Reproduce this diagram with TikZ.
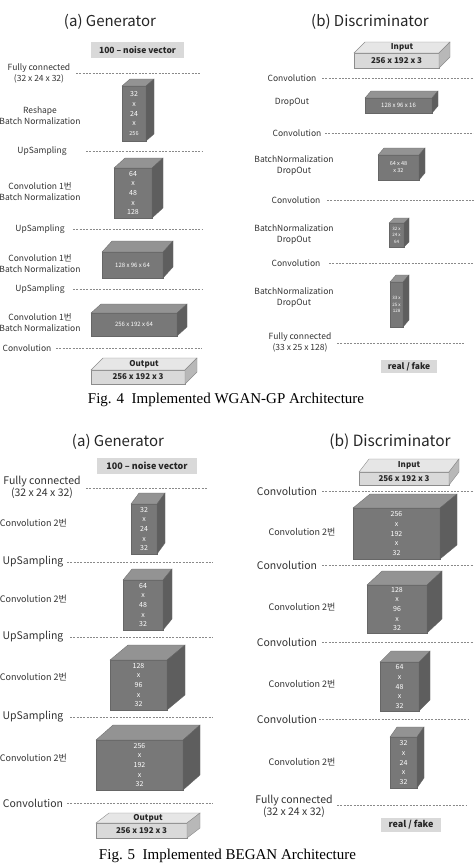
\documentclass[tikz,border=0pt]{standalone}
\usepackage{fontspec}
\usetikzlibrary{calc}
\newfontfamily\kr{Noto Sans CJK KR}
\newfontfamily\capfont{Liberation Serif}
\definecolor{frontc}{HTML}{787878}
\definecolor{topc}{HTML}{939393}
\definecolor{sidec}{HTML}{5E5E5E}
\definecolor{edgec}{HTML}{666666}
\definecolor{lfront}{HTML}{D9D9D9}
\definecolor{ltop}{HTML}{E6E6E6}
\definecolor{lside}{HTML}{B8B8B8}
\definecolor{ledge}{HTML}{8C8C8C}
\definecolor{labc}{HTML}{333333}
\definecolor{sepc}{HTML}{8A8A8A}
\tikzset{
  cubefront/.style={fill=frontc, draw=edgec, line width=0.3pt, inner sep=0pt, outer sep=0pt, text=white, align=center, font=\kr\fontsize{7}{9.7}\selectfont},
  cubetop/.style={fill=topc, draw=edgec, line width=0.3pt},
  cubeside/.style={fill=sidec, draw=edgec, line width=0.3pt},
  litefront/.style={fill=lfront, draw=ledge, line width=0.4pt, inner sep=0pt, outer sep=0pt, text=black!85, font=\kr\bfseries\fontsize{8}{9}\selectfont},
  litetop/.style={fill=ltop, draw=ledge, line width=0.4pt},
  liteside/.style={fill=lside, draw=ledge, line width=0.4pt},
  flatbox/.style={fill=lfront, inner sep=0pt, text=black!85, font=\kr\bfseries\fontsize{8.5}{9}\selectfont},
  labA/.style={text=labc, align=center, font=\kr\fontsize{8.5}{11}\selectfont, inner sep=0pt},
  labB/.style={text=labc, align=center, font=\kr\fontsize{10.5}{12}\selectfont, inner sep=0pt},
  labC/.style={text=labc, align=center, font=\kr\fontsize{9}{10}\selectfont, inner sep=0pt},
  titl/.style={text=black!85, font=\kr\fontsize{15}{17}\selectfont, inner sep=0pt},
  capt/.style={text=black, font=\capfont\fontsize{15}{17}\selectfont, inner sep=0pt},
  sep/.style={draw=sepc, line width=0.7pt, dash pattern=on 2pt off 1.3pt},
  tiny5/.style={font=\kr\fontsize{5.5}{7}\selectfont},
  tiny4/.style={font=\kr\fontsize{4.5}{6.5}\selectfont},
  small55/.style={font=\kr\fontsize{6}{7}\selectfont},
}
% name, cx, cy, w, h, dx, dy(up), text, extra style
\newcommand\cubeb[9]{%
  \node[cubefront, minimum width=#4pt, minimum height=#5pt, #9] (#1) at (#2,#3) {#8};
  \filldraw[cubetop] (#1.north west) -- ++(#6pt,#7pt) -- ++(#4pt,0pt) -- (#1.north east) -- cycle;
  \filldraw[cubeside] (#1.north east) -- ++(#6pt,#7pt) -- ++(0pt,-#5pt) -- (#1.south east) -- cycle;
}
% name, cx, cy, w, h, dx, dy(up), toptext, fronttext
\newcommand\liteb[9]{%
  \node[litefront, minimum width=#4pt, minimum height=#5pt] (#1) at (#2,#3) {#9};
  \filldraw[litetop] (#1.north west) -- ++(#6pt,#7pt) -- ++(#4pt,0pt) -- (#1.north east) -- cycle;
  \filldraw[liteside] (#1.north east) -- ++(#6pt,#7pt) -- ++(0pt,-#5pt) -- (#1.south east) -- cycle;
  \node[text=black!85, font=\kr\bfseries\fontsize{8}{9}\selectfont, inner sep=0pt] (#1t) at ($(#1.north)+(0.5*#6pt,0.5*#7pt)$) {#8};
}
% separator: name, y, x0, x1
\newcommand\sepl[4]{%
  \coordinate (#1a) at (#3,#2);
  \coordinate (#1b) at (#4,#2);
  \draw[sep] (#1a) -- (#1b);
}
\begin{document}
\begin{tikzpicture}[x=1pt,y=-1pt]
\useasboundingbox (0,0) rectangle (474,865);
\fill[white] (0,0) rectangle (474,865);

% ================= Fig. 4 =================
\node[titl] (t4a) at (110,22) {(a) Generator};
\node[titl] (t4b) at (370,22) {(b) Discriminator};

% Generator
\node[flatbox, minimum width=93pt, minimum height=16pt] (n4) at (137.5,50) {100 – noise vector};
\node[labA] (g4l1) at (39,73.5) {Fully connected\\(32 x 24 x 32)};
\sepl{s41}{73}{76}{200}
\cubeb{g41}{134}{113.5}{24}{55}{8}{7}{32\\x\\24\\x\\{\fontsize{5.5}{7}\selectfont 256}}{}
\node[labA] (g4l2) at (40,115.5) {Reshape\\Batch Normalization};
\node[labA] (g4l3) at (42,151) {UpSampling};
\sepl{s42}{151}{86}{202}
\cubeb{g42}{133}{193}{38}{50}{11}{10}{64\\x\\48\\x\\128}{}
\node[labA] (g4l4) at (40,192) {Convolution 1번\\Batch Normalization};
\node[labA] (g4l5) at (40,229) {UpSampling};
\sepl{s43}{229}{73}{202}
\cubeb{g43}{132.5}{265}{61}{26}{10}{11}{128 x 96 x 64}{small55}
\node[labA] (g4l6) at (40,263.5) {Convolution 1번\\Batch Normalization};
\node[labA] (g4l7) at (40,289) {UpSampling};
\sepl{s44}{289}{73}{202}
\cubeb{g44}{134}{324.5}{86}{23}{10}{9}{256 x 192 x 64}{small55}
\node[labA] (g4l8) at (40,323) {Convolution 1번\\Batch Normalization};
\node[labA] (g4l9) at (27,348) {Convolution};
\sepl{s45}{348}{56}{202}
\liteb{o4}{138}{377}{94}{14}{12}{12}{Output}{256 x 192 x 3}

% Discriminator
\liteb{i4}{396.5}{60.5}{85}{15}{11}{11}{Input}{256 x 192 x 3}
\node[labA] (d4l1) at (292,78) {Convolution};
\sepl{s46}{78}{322}{474}
\node[labA] (d4l2) at (292,102) {DropOut};
\cubeb{d41}{398.5}{105.5}{67}{15}{6}{7}{128 x 96 x 16}{small55}
\node[labA] (d4l3) at (297,133) {Convolution};
\sepl{s47}{133}{325}{474}
\node[labA] (d4l4) at (294,165.5) {BatchNormalization\\DropOut};
\cubeb{d42}{398.5}{167.5}{41}{25}{6}{7}{64 x 48\\x 32}{tiny5}
\node[labA] (d4l5) at (296,200) {Convolution};
\sepl{s48}{200}{327}{474}
\node[labA] (d4l6) at (294,234.5) {BatchNormalization\\DropOut};
\cubeb{d43}{396.5}{235}{15}{24}{5}{5}{32 x\\24 x\\64}{tiny4}
\node[labA] (d4l7) at (296,263) {Convolution};
\sepl{s49}{263}{329}{474}
\node[labA] (d4l8) at (294,298) {BatchNormalization\\DropOut};
\cubeb{d44}{396.5}{304.5}{13}{45}{6}{7}{33 x\\25 x\\128}{tiny4}
\node[labA] (d4l9) at (300,342) {Fully connected\\(33 x 25 x 128)};
\sepl{s4a}{343}{337}{464}
\node[flatbox, minimum width=56pt, minimum height=13pt] (rf4) at (409,366.5) {real / fake};

\node[capt] (c4) at (226,400) {Fig. 4\enspace Implemented WGAN-GP Architecture};

% ================= Fig. 5 =================
\node[titl] (t5a) at (118,442) {(a) Generator};
\node[titl, font=\kr\fontsize{15.5}{17}\selectfont] (t5b) at (390,442) {(b) Discriminator};

% Generator
\node[flatbox, minimum width=100pt, minimum height=16pt, font=\kr\bfseries\fontsize{9}{9}\selectfont] (n5) at (147,466) {100 – noise vector};
\node[labB] (g5l1) at (42,487.5) {Fully connected\\(32 x 24 x 32)};
\sepl{s51}{488}{86}{208}
\cubeb{g51}{144}{529}{26}{50}{8}{11}{32\\x\\24\\x\\32}{}
\node[labC, anchor=east] (g5l2) at (67,523) {Convolution 2번};
\node[labB] (g5l3) at (33,562) {UpSampling};
\sepl{s52}{562}{67}{213}
\cubeb{g52}{143}{605}{40}{50}{9}{11}{64\\x\\48\\x\\32}{}
\node[labC, anchor=east] (g5l4) at (67,599) {Convolution 2번};
\node[labB] (g5l5) at (33,637) {UpSampling};
\sepl{s53}{637}{70}{213}
\cubeb{g53}{138.5}{685}{57}{50}{18}{15}{128\\x\\96\\x\\32}{}
\node[labC, anchor=east] (g5l6) at (67,677) {Convolution 2번};
\node[labB] (g5l7) at (33,717) {UpSampling};
\sepl{s54}{717}{70}{213}
\cubeb{g54}{139.5}{765}{87}{50}{17}{15}{256\\x\\192\\x\\32}{}
\node[labC, anchor=east] (g5l8) at (67,758) {Convolution 2번};
\node[labB] (g5l9) at (33,803) {Convolution};
\sepl{s55}{803}{67}{213}
\liteb{o5}{141.5}{830.5}{91}{15}{13}{10}{Output}{256 x 192 x 3}

% Discriminator
\liteb{i5}{404}{478.5}{90}{13}{10}{13}{Input}{256 x 192 x 3}
\node[labB] (d5l1) at (287,491) {Convolution};
\sepl{s56}{491}{322}{474}
\cubeb{d51}{396.5}{533.5}{87}{51}{17}{14}{256\\x\\192\\x\\32}{}
\node[labC] (d5l2) at (302,532) {Convolution 2번};
\node[labB] (d5l3) at (287,565) {Convolution};
\sepl{s57}{565}{322}{474}
\cubeb{d52}{397}{609}{60}{48}{15}{14}{128\\x\\96\\x\\32}{}
\node[labC] (d5l4) at (302,607) {Convolution 2번};
\node[labB] (d5l5) at (287,642) {Convolution};
\sepl{s58}{642}{322}{474}
\cubeb{d53}{399.5}{686.5}{39}{49}{11}{11}{64\\x\\48\\x\\32}{}
\node[labC] (d5l6) at (302,684) {Convolution 2번};
\node[labB] (d5l7) at (287,719) {Convolution};
\sepl{s59}{719}{319}{469}
\cubeb{d54}{403.5}{762.5}{27}{51}{7}{10}{32\\x\\24\\x\\32}{}
\node[labC] (d5l8) at (302,762) {Convolution 2번};
\node[labB] (d5l9) at (294,806.5) {Fully connected\\(32 x 24 x 32)};
\sepl{s5a}{805}{337}{467}
\node[flatbox, minimum width=60pt, minimum height=14pt, font=\kr\bfseries\fontsize{9}{9}\selectfont] (rf5) at (411,825) {real / fake};

\node[capt] (c5) at (227.5,856) {Fig. 5\enspace Implemented BEGAN Architecture};
\end{tikzpicture}
\end{document}
